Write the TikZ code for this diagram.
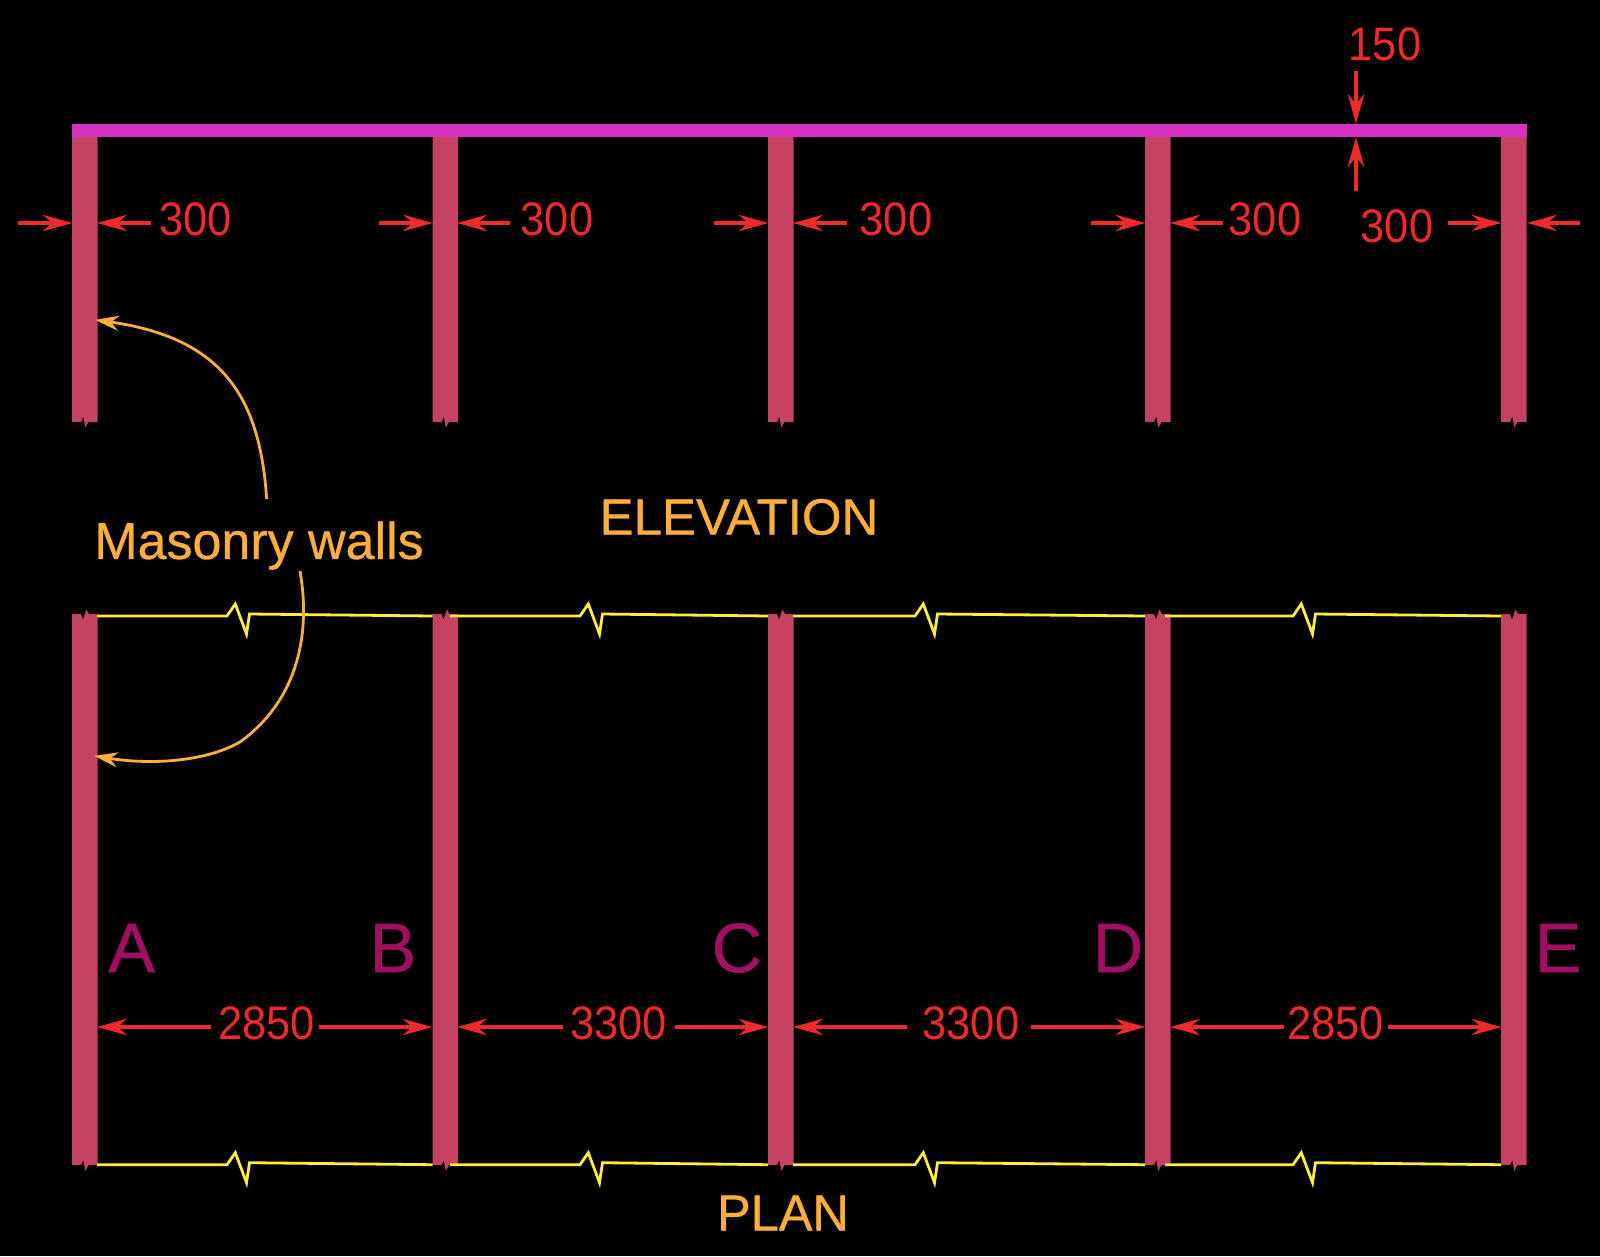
\documentclass[tikz,border=0pt]{standalone}
\usepackage{fontspec}
\setmainfont{Liberation Sans}
\newfontfamily\heavyfont[FakeBold=0.6]{Liberation Sans}
\usetikzlibrary{arrows.meta}
\definecolor{wallc}{HTML}{C44262}
\definecolor{beamc}{HTML}{D630C0}
\definecolor{dimc}{HTML}{EE2A2A}
\definecolor{orangec}{HTML}{FFAF38}
\definecolor{yellowc}{HTML}{FFEE3A}
\definecolor{gridc}{HTML}{A01060}
\newcommand{\narrowtext}[1]{\scalebox{0.925}[1]{#1}}
\tikzset{
  x=1pt,y=-1pt,
  wallshape/.style={fill=wallc,draw=none},
  dimarrow/.style={draw=dimc,line width=3.4pt,-{Stealth[length=30pt,width=16.5pt,inset=10pt]},shorten >=-1pt},
  leader/.style={draw=orangec,line width=2.8pt,-{Stealth[length=24pt,width=15pt,inset=8pt]},shorten >=-1pt},
  breakline/.style={draw=yellowc,line width=2.8pt,line join=miter},
  dimtext/.style={text=dimc,font=\fontsize{47}{47}\selectfont,inner sep=0pt},
  gridtext/.style={text=gridc,font=\heavyfont\fontsize{70}{70}\selectfont,inner sep=0pt},
  titletext/.style={text=orangec,font=\heavyfont\fontsize{51}{51}\selectfont,inner sep=0pt},
}
\begin{document}
\begin{tikzpicture}
\useasboundingbox (0,0) rectangle (1600,1256);
\fill[black] (0,0) rectangle (1600,1256);
% walls
\foreach \n/\x in {a/72,b/432.5,c/768,d/1145,e/1501}{
  \fill[wallshape] (\x,130) -- (\x+25.5,130) -- (\x+25.5,422) -- (\x+16.5,422) -- (\x+13.3,427.5) -- (\x+11.3,416.5) -- (\x+9,422) -- (\x,422) -- cycle;
  \fill[wallshape] (\x,614) -- (\x+9,614) -- (\x+11,619.5) -- (\x+14.5,609.5) -- (\x+17,614) -- (\x+25.5,614) -- (\x+25.5,1165) -- (\x+16.5,1165) -- (\x+13.3,1171) -- (\x+11.3,1160) -- (\x+9,1165) -- (\x,1165) -- cycle;
}
\fill[beamc] (72,124) rectangle (1527,137);
% break lines
\foreach \s/\k/\e in {97/227/432.5,450/580/768,793/915/1145,1165/1293/1501}{
  \foreach \y in {616,1164.7}{
    \draw[breakline] (\s,\y) -- (\k,\y) -- (\k+8.3,\y-12) -- (\k+19.5,\y+18) -- (\k+22.5,\y-2) -- (\e,\y);
  }
}
% dimensions
\foreach \i/\xa/\ya/\xb/\yb in {
  1/18/223/71.5/223, 2/151/223/98/223,
  3/378.6/223/432/223, 4/510/223/458/223,
  5/714/223/767.5/223, 6/847/223/794/223,
  7/1091/223/1144.5/223, 8/1223/223/1171/223,
  9/1447.5/223/1500.5/223, 10/1580/223/1528/223,
  11/1356/71/1356/123, 12/1356/190.7/1356/138,
  13/211/1027/98/1027, 14/318.7/1027/431.5/1027,
  15/563/1027/458/1027, 16/674.5/1027/767.5/1027,
  17/907/1027/794/1027, 18/1030.6/1027/1144.5/1027,
  19/1283.7/1027/1171/1027, 20/1387.8/1027/1500.5/1027}{
  \coordinate (ds\i) at (\xa,\ya);
  \coordinate (de\i) at (\xb,\yb);
  \draw[dimarrow] (ds\i) -- (de\i);
}
% leaders
\coordinate (la) at (266.7,499);
\coordinate (lb) at (96,320);
\coordinate (lc) at (300,571);
\coordinate (lm) at (240,742);
\coordinate (ld) at (95,756);
\draw[leader] (la) .. controls (260,400) and (225,338) .. (lb);
\draw[leader] (lc) .. controls (312,640) and (294,703) .. (lm) .. controls (205,762) and (150,765) .. (ld);
% dimension text
\node[dimtext] (t1) at (195.5,219.5) {\narrowtext{300}};
\node[dimtext] (t2) at (557,219.5) {\narrowtext{300}};
\node[dimtext] (t3) at (896,219.5) {\narrowtext{300}};
\node[dimtext] (t4) at (1265,219.5) {\narrowtext{300}};
\node[dimtext] (t5) at (1397,226.6) {\narrowtext{300}};
\node[dimtext] (t6) at (1385,44.5) {\narrowtext{150}};
\node[dimtext] (t7) at (266.7,1023) {\narrowtext{2850}};
\node[dimtext] (t8) at (618.6,1023) {\narrowtext{3300}};
\node[dimtext] (t9) at (971,1023) {\narrowtext{3300}};
\node[dimtext] (t10) at (1335.7,1023) {\narrowtext{2850}};
% grid letters
\node[gridtext] (ga) at (131.7,948) {A};
\node[gridtext] (gb) at (393,948) {B};
\node[gridtext] (gc) at (737,948) {C};
\node[gridtext] (gd) at (1118,948) {D};
\node[gridtext] (ge) at (1558,948) {E};
% titles
\node[titletext] (elev) at (739,517) {ELEVATION};
\node[titletext,font=\heavyfont\fontsize{50.5}{50.5}\selectfont] (plan) at (783,1213) {PLAN};
\node[titletext,font=\heavyfont\fontsize{52}{52}\selectfont] (mason) at (259,545.5) {Masonry walls};
\end{tikzpicture}
\end{document}
